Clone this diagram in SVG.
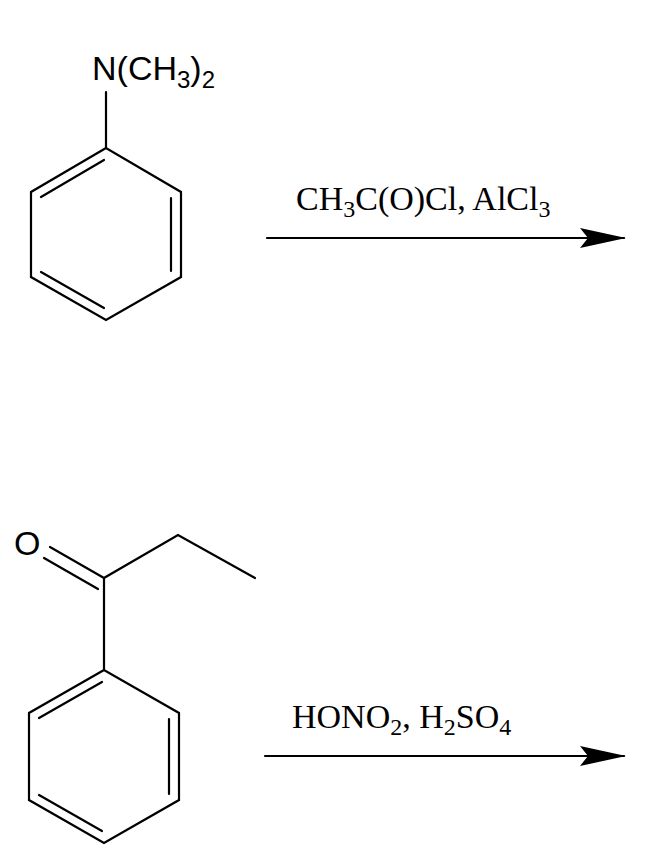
<svg xmlns="http://www.w3.org/2000/svg" width="648" height="856" viewBox="0 0 648 856">
<style>
.b{stroke:#000;stroke-width:2.2;fill:none;stroke-linecap:round}
.s{font-family:"Liberation Sans",Arial,sans-serif;font-size:34px}
.t{font-family:"Liberation Serif","Times New Roman",serif;font-size:34px}
</style>
<defs><marker id="ah" markerWidth="46" markerHeight="20" refX="44" refY="10" orient="auto" markerUnits="userSpaceOnUse"><path d="M0,0 L46,10 L0,20 L8,10 Z" fill="#000"/></marker></defs>
<rect width="648" height="856" fill="#fff"/>
<g id="mol1">
<path class="b" d="M106,148 L31,192 L31,277 L106,320 L181,277 L181,192 Z M106,148 L106,92"/>
<path class="b" d="M104,160 L41,197 M171,198 L171,271 M41,272 L104,308"/>
<text class="s" x="92" y="80">N(CH<tspan font-size="24" dy="8">3</tspan><tspan dy="-8">)</tspan><tspan font-size="24" dy="8">2</tspan></text>
</g>
<g id="mol2">
<path class="b" d="M104,670 L29,713 L29,800 L104,843 L179,800 L179,713 Z M104,670 L104,578 L178,535 L255,578 M104,578 L50,547"/>
<path class="b" d="M98,589 L44,558"/>
<text class="s" x="14" y="555">O</text>
<path class="b" d="M102,682 L39,718 M169,719 L169,794 M39,795 L102,831"/>
</g>
<g id="connectors">
<line class="b" x1="267" y1="238" x2="624" y2="238" marker-end="url(#ah)"/>
<line class="b" x1="265" y1="756" x2="624" y2="756" marker-end="url(#ah)"/>
</g>
<text class="t" x="296" y="210">CH<tspan font-size="24" dy="7">3</tspan><tspan dy="-7">C(O)Cl, AlCl</tspan><tspan font-size="24" dy="7">3</tspan></text>
<text class="t" x="292" y="728">HONO<tspan font-size="24" dy="7">2</tspan><tspan dy="-7">, H</tspan><tspan font-size="24" dy="7">2</tspan><tspan dy="-7">SO</tspan><tspan font-size="24" dy="7">4</tspan></text>
</svg>
